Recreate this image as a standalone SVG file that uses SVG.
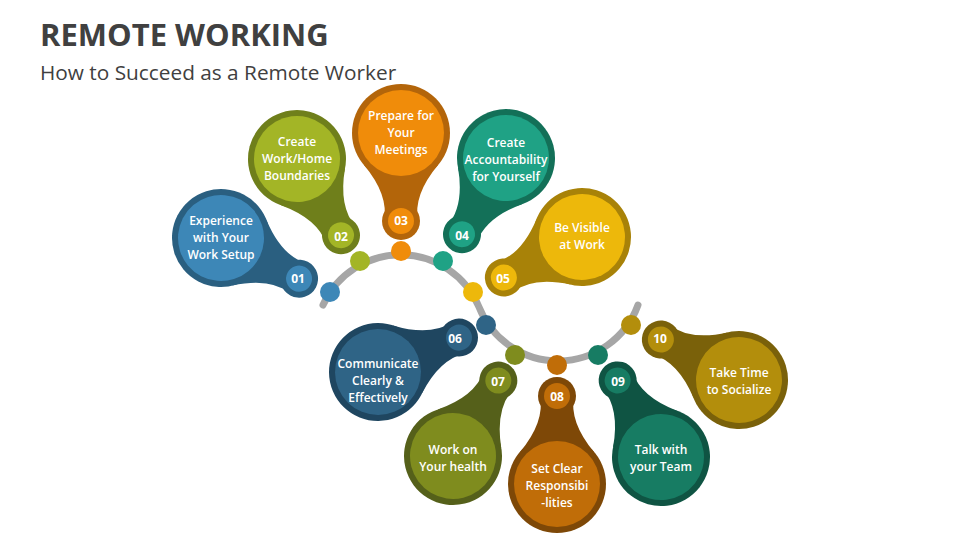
<svg xmlns="http://www.w3.org/2000/svg" width="960" height="540" viewBox="0 0 960 540">
<style>
.t{font-family:"Open Sans","Liberation Sans",sans-serif;font-size:12px;font-weight:600;fill:#fff;text-anchor:middle}
.n{font-family:"Open Sans","Liberation Sans",sans-serif;font-size:12px;font-weight:700;fill:#fff;text-anchor:middle}
</style>
<defs>
<path id="neck" d="M32,-37 Q62,-12 88,-17 L88,17 Q62,12 32,37 Z"/>
</defs>
<rect width="960" height="540" fill="#fff"/>
<text x="40" y="46" font-family="Open Sans,Liberation Sans,sans-serif" font-size="31" font-weight="700" fill="#404040">REMOTE WORKING</text>
<text x="40" y="80" font-family="Open Sans,Liberation Sans,sans-serif" font-size="20.8" fill="#404040">How to Succeed as a Remote Worker</text>
<g id="connectors">
<path d="M323,305 A85,85 0 0 1 479,307 A85,85 0 0 0 638,305" fill="none" stroke="#a6a6a6" stroke-width="7" stroke-linecap="round"/>
<circle cx="330" cy="292" r="10" fill="#3d87b7"/>
<circle cx="360" cy="261" r="10" fill="#a3b526"/>
<circle cx="401" cy="251" r="10" fill="#f08c0a"/>
<circle cx="443" cy="261" r="10" fill="#1fa285"/>
<circle cx="473" cy="292" r="10" fill="#edb80b"/>
<circle cx="486" cy="325" r="10" fill="#2f6486"/>
<circle cx="515" cy="355" r="10" fill="#7f8c1e"/>
<circle cx="557" cy="365" r="10" fill="#c06d08"/>
<circle cx="598" cy="355" r="10" fill="#177c63"/>
<circle cx="631" cy="325" r="10" fill="#b38e0c"/>
</g>
<g id="n01"><g transform="translate(221,238) rotate(27.5)" fill="#2a5f80"><circle r="49"/><circle cx="88" r="19"/><use href="#neck"/><circle r="43" fill="#3d87b7"/><circle cx="88" r="13" fill="#3d87b7"/></g>
<text class="t" x="221" y="225">Experience</text><text class="t" x="221" y="242">with Your</text><text class="t" x="221" y="259">Work Setup</text><text class="n" x="298" y="283">01</text></g>
<g id="n02"><g transform="translate(297,159) rotate(60)" fill="#6f7f1b"><circle r="49"/><circle cx="88" r="19"/><use href="#neck"/><circle r="43" fill="#a3b526"/><circle cx="88" r="13" fill="#a3b526"/></g>
<text class="t" x="297" y="146">Create</text><text class="t" x="297" y="163">Work/Home</text><text class="t" x="297" y="180">Boundaries</text><text class="n" x="341" y="241">02</text></g>
<g id="n03"><g transform="translate(401,133) rotate(90)" fill="#b3650a"><circle r="49"/><circle cx="88" r="19"/><use href="#neck"/><circle r="43" fill="#f08c0a"/><circle cx="88" r="13" fill="#f08c0a"/></g>
<text class="t" x="401" y="120">Prepare for</text><text class="t" x="401" y="137">Your</text><text class="t" x="401" y="154">Meetings</text><text class="n" x="401" y="225">03</text></g>
<g id="n04"><g transform="translate(506,158) rotate(120)" fill="#137058"><circle r="49"/><circle cx="88" r="19"/><use href="#neck"/><circle r="43" fill="#1fa285"/><circle cx="88" r="13" fill="#1fa285"/></g>
<text class="t" x="506" y="147">Create</text><text class="t" x="506" y="164">Accountability</text><text class="t" x="506" y="181">for Yourself</text><text class="n" x="462" y="240">04</text></g>
<g id="n05"><g transform="translate(582,237) rotate(152.6)" fill="#a88208"><circle r="49"/><circle cx="88" r="19"/><use href="#neck"/><circle r="43" fill="#edb80b"/><circle cx="88" r="13" fill="#edb80b"/></g>
<text class="t" x="582" y="232">Be Visible</text><text class="t" x="582" y="249">at Work</text><text class="n" x="503" y="283">05</text></g>
<g id="n06"><g transform="translate(378,372) rotate(-23)" fill="#1f4660"><circle r="49"/><circle cx="88" r="19"/><use href="#neck"/><circle r="43" fill="#2f6486"/><circle cx="88" r="13" fill="#2f6486"/></g>
<text class="t" x="378" y="368">Communicate</text><text class="t" x="378" y="385">Clearly &amp;</text><text class="t" x="378" y="402">Effectively</text><text class="n" x="455" y="343">06</text></g>
<g id="n07"><g transform="translate(453,456) rotate(-59)" fill="#55601a"><circle r="49"/><circle cx="88" r="19"/><use href="#neck"/><circle r="43" fill="#7f8c1e"/><circle cx="88" r="13" fill="#7f8c1e"/></g>
<text class="t" x="453" y="454">Work on</text><text class="t" x="453" y="471">Your health</text><text class="n" x="498" y="386">07</text></g>
<g id="n08"><g transform="translate(557,484) rotate(-90)" fill="#7e4807"><circle r="49"/><circle cx="88" r="19"/><use href="#neck"/><circle r="43" fill="#c06d08"/><circle cx="88" r="13" fill="#c06d08"/></g>
<text class="t" x="557" y="473">Set Clear</text><text class="t" x="557" y="490">Responsibi</text><text class="t" x="557" y="507">-lities</text><text class="n" x="557" y="401">08</text></g>
<g id="n09"><g transform="translate(661,457) rotate(-119.5)" fill="#0f5443"><circle r="49"/><circle cx="88" r="19"/><use href="#neck"/><circle r="43" fill="#177c63"/><circle cx="88" r="13" fill="#177c63"/></g>
<text class="t" x="661" y="454">Talk with</text><text class="t" x="661" y="471">your Team</text><text class="n" x="618" y="386">09</text></g>
<g id="n10"><g transform="translate(739,380) rotate(-152.6)" fill="#7a610a"><circle r="49"/><circle cx="88" r="19"/><use href="#neck"/><circle r="43" fill="#b38e0c"/><circle cx="88" r="13" fill="#b38e0c"/></g>
<text class="t" x="739" y="377">Take Time</text><text class="t" x="739" y="394">to Socialize</text><text class="n" x="660" y="343">10</text></g>
</svg>
